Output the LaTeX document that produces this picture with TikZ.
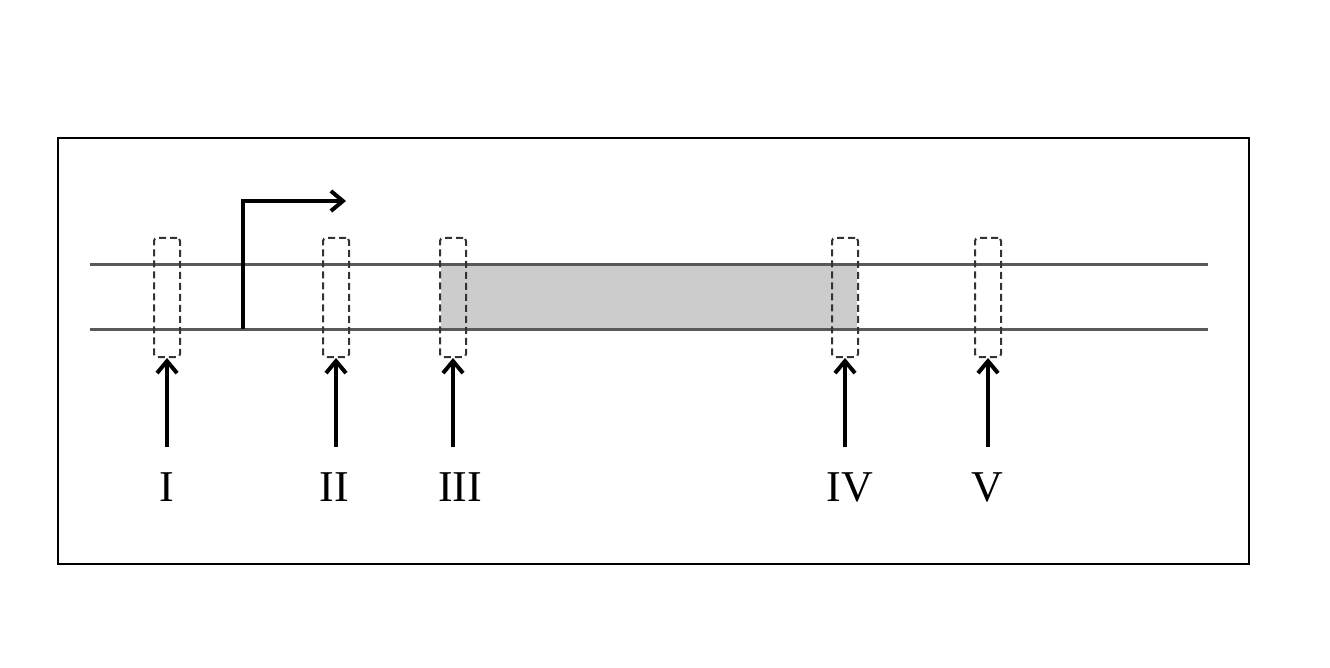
\documentclass[tikz,border=0pt]{standalone}
\usepackage{fontspec}
\setmainfont{Liberation Serif}
\usetikzlibrary{arrows.meta}
\begin{document}
\begin{tikzpicture}[x=1pt,y=-1pt,
  dbox/.style={draw=black!80,dash pattern=on 7pt off 4pt,line width=2pt,rounded corners=3pt,minimum width=26pt,minimum height=119pt,inner sep=0pt},
  lbl/.style={font=\fontsize{44}{48}\selectfont,inner sep=0pt},
  arr/.style={line width=4pt,arrows={-Straight Barb[length=12pt,width=20pt]}}]
\useasboundingbox (0,0) rectangle (1330,668);
\node[draw,line width=1.5pt,minimum width=1191pt,minimum height=426pt,inner sep=0pt] (frame) at (653.5,351) {};
\fill[gray!40] (441,265) rectangle (857,329);
\coordinate (l1a) at (90,265); \coordinate (l1b) at (1208,265);
\coordinate (l2a) at (90,329); \coordinate (l2b) at (1208,329);
\draw[black!65,line width=3pt] (l1a) -- (l1b);
\draw[black!65,line width=3pt] (l2a) -- (l2b);
\coordinate (p0) at (243,329); \coordinate (p1) at (243,201); \coordinate (p2) at (346,201);
\draw[arr] (p0) -- (p1) -- (p2);
\foreach \n/\x/\lx/\t in {a/167/167/I,b/336/334/II,c/453/460/III,d/845/850/IV,e/988/987/V}{
  \node[dbox] (b\n) at (\x,297.5) {};
  \coordinate (s\n) at (\x,447);
  \draw[arr] (s\n) -- (b\n.south);
  \node[lbl] (t\n) at (\lx,487) {\t};
}
\end{tikzpicture}
\end{document}
